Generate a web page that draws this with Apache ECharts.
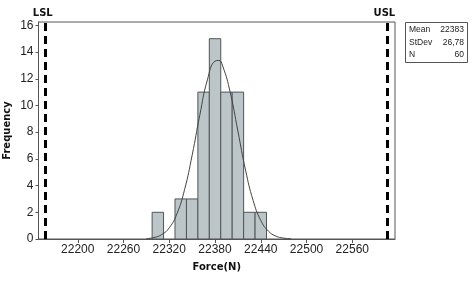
<!DOCTYPE html>
<html>
<head>
<meta charset="utf-8">
<script src="https://cdn.jsdelivr.net/npm/echarts@6/dist/echarts.min.js"></script>
<style>
  html, body { margin: 0; padding: 0; background: #fff; }
  #chart { width: 474px; height: 286px; }
</style>
</head>
<body>
<div id="chart"></div>
<script>
// histogram bins (centre of each bin) and counts
var binCenters = [22305, 22320, 22335, 22350, 22365, 22380, 22395, 22410, 22425, 22440];
var binCounts = [2, 0, 3, 3, 11, 15, 11, 11, 2, 2];
var binWidth = 15;

// fitted normal curve
var curveX = [22290, 22300, 22310, 22320, 22330, 22340, 22350, 22360, 22370, 22380, 22385,
              22390, 22400, 22410, 22420, 22430, 22440, 22450, 22460, 22470, 22480];
var curveY = [0.03, 0.11, 0.33, 0.84, 1.89, 3.69, 6.28, 9.27, 11.92, 13.32, 13.37,
              12.96, 10.96, 8.07, 5.16, 2.88, 1.39, 0.59, 0.21, 0.07, 0.02];

// spec limits
var specNames = ["LSL", "USL"];
var specValues = [22158, 22606];

// axis ticks
var xTicks = [22200, 22260, 22320, 22380, 22440, 22500, 22560];
var yTicks = [0, 2, 4, 6, 8, 10, 12, 14, 16];

// summary box
var statNames = ["Mean", "StDev", "N"];
var statValues = ["22383", "26,78", "60"];

var chart = echarts.init(document.getElementById("chart"));

var histData = binCenters.map(function (c, i) {
  return [c - binWidth / 2, c + binWidth / 2, binCounts[i]];
});
var curveData = curveX.map(function (x, i) { return [x, curveY[i]]; });

var statGraphics = [{
  type: "rect",
  shape: { x: 405.5, y: 22.5, width: 62, height: 40 },
  style: { fill: "#fff", stroke: "#555", lineWidth: 1 }
}];
statNames.forEach(function (n, i) {
  statGraphics.push({
    type: "text", x: 409, y: 30 + i * 12.5,
    style: { text: n, fontSize: 8.5, fontFamily: "Liberation Sans", fill: "#222", verticalAlign: "middle" }
  });
  statGraphics.push({
    type: "text", x: 464, y: 30 + i * 12.5,
    style: { text: statValues[i], fontSize: 8.5, fontFamily: "Liberation Sans", fill: "#222",
             align: "right", verticalAlign: "middle" }
  });
});

var option = {
  animation: false,
  grid: {
    left: 38.5, right: 79, top: 22, bottom: 47,
    outerBoundsMode: "none",
    show: true, borderColor: "#555", borderWidth: 1
  },
  xAxis: {
    type: "value",
    min: 22148.5,
    max: 22616,
    name: "Force(N)",
    nameLocation: "middle",
    nameGap: 23,
    nameMoveOverlap: false,
    nameTextStyle: { fontFamily: "DejaVu Sans", fontWeight: "bold", fontSize: 10, color: "#111" },
    splitLine: { show: false },
    axisLine: { lineStyle: { color: "#555" } },
    axisTick: { customValues: xTicks, length: 4, lineStyle: { color: "#555" } },
    axisLabel: {
      customValues: xTicks, fontFamily: "Liberation Sans", fontSize: 12, color: "#222", margin: 5,
      formatter: function (v) { return String(v); }
    }
  },
  yAxis: {
    type: "value",
    min: 0,
    max: 16.25,
    name: "Frequency",
    nameLocation: "middle",
    nameGap: 26,
    nameMoveOverlap: false,
    nameTextStyle: { fontFamily: "DejaVu Sans", fontWeight: "bold", fontSize: 10, color: "#111" },
    splitLine: { show: false },
    axisLine: { show: true, lineStyle: { color: "#555" } },
    axisTick: { show: true, customValues: yTicks, length: 3, lineStyle: { color: "#555" } },
    axisLabel: { customValues: yTicks, fontFamily: "Liberation Sans", fontSize: 12, color: "#222", margin: 5 }
  },
  graphic: statGraphics,
  series: [
    {
      type: "custom",
      data: histData,
      encode: { x: [0, 1], y: 2 },
      renderItem: function (params, api) {
        if (api.value(2) <= 0) return null;
        var p0 = api.coord([api.value(0), api.value(2)]);
        var p1 = api.coord([api.value(1), 0]);
        return {
          type: "rect",
          shape: { x: p0[0], y: p0[1], width: p1[0] - p0[0], height: p1[1] - p0[1] },
          style: { fill: "#bcc6c9", stroke: "#505558", lineWidth: 1 }
        };
      }
    },
    {
      type: "line",
      data: curveData,
      smooth: true,
      showSymbol: false,
      lineStyle: { color: "#444", width: 1 },
      markLine: {
        silent: true,
        symbol: "none",
        lineStyle: { color: "#000", width: 3, type: [8, 5] },
        label: {
          show: true, position: "end", formatter: "{b}", offset: [-3, 0],
          fontFamily: "DejaVu Sans", fontWeight: "bold", fontSize: 10, color: "#111", distance: 4
        },
        data: specNames.map(function (n, i) { return { name: n, xAxis: specValues[i] }; })
      }
    }
  ]
};

chart.setOption(option);
</script>
</body>
</html>
